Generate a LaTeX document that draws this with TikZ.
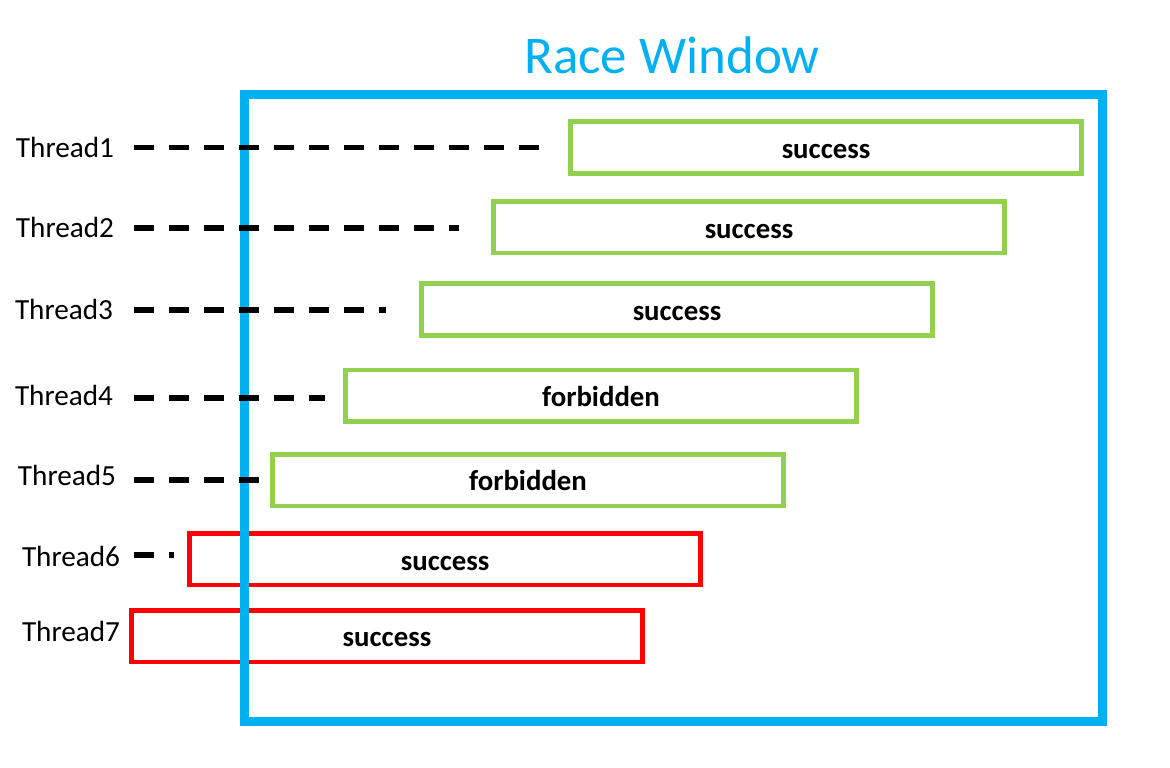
\documentclass[tikz,border=0pt]{standalone}
\usepackage{fontspec}
\setmainfont{Carlito}
\usepackage{tikz}
\usetikzlibrary{positioning}
\definecolor{WindowBlue}{RGB}{0, 176, 240}
\definecolor{OkGreen}{RGB}{146, 208, 80}
\definecolor{LateRed}{RGB}{255, 0, 0}

\begin{document}
\begin{tikzpicture}[x=0.5pt,y=-0.5pt,
    every node/.style={inner sep=0pt,outer sep=0pt},
    runbox/.style={draw,line width=2.35pt,minimum width=255.5pt,minimum height=25.8pt,text height=10.8pt,text depth=0pt,font=\fontsize{14.4}{17}\selectfont\bfseries},
    tlabel/.style={anchor=base west,font=\fontsize{14.6}{17}\selectfont},
    waitline/.style={line width=2.6pt,dash pattern=on 10pt off 7.5pt}]
    \useasboundingbox (0,0) rectangle (1170,767);
    \node[runbox,draw=LateRed] (b6) at (445.2,559.2) {success};
    \node[runbox,draw=LateRed] (b7) at (387,636.1) {success};
    \node[draw=WindowBlue,line width=4.5pt,minimum width=429pt,minimum height=313.5pt] (window) at (673.5,408) {};
    \node[anchor=base,text=WindowBlue,font=\fontsize{26.5}{30}\selectfont] (title) at (672,73) {Race Window};
    \node[runbox,draw=OkGreen] (b1) at (826,147.5) {success};
    \node[runbox,draw=OkGreen] (b2) at (749,227.3) {success};
    \node[runbox,draw=OkGreen] (b3) at (677,309.5) {success};
    \node[runbox,draw=OkGreen] (b4) at (601,395.7) {forbidden};
    \node[runbox,draw=OkGreen] (b5) at (528,480.1) {forbidden};
    \node[tlabel] (t1) at (16,157) {Thread1};
    \node[tlabel] (t2) at (16,237) {Thread2};
    \node[tlabel] (t3) at (15,319) {Thread3};
    \node[tlabel] (t4) at (15,405) {Thread4};
    \node[tlabel] (t5) at (18,485) {Thread5};
    \node[tlabel] (t6) at (22,566) {Thread6};
    \node[tlabel] (t7) at (22,641) {Thread7};
    \coordinate (w1s) at (134,147.5); \coordinate (w1e) at (539,147.5);
    \coordinate (w2s) at (134,228); \coordinate (w2e) at (459,228);
    \coordinate (w3s) at (134,310); \coordinate (w3e) at (386,310);
    \coordinate (w4s) at (134,398); \coordinate (w4e) at (325,398);
    \coordinate (w5s) at (134,480); \coordinate (w5e) at (259,480);
    \coordinate (w6s) at (134,555); \coordinate (w6e) at (174,555);
    \draw[waitline] (w1s) -- (w1e);
    \draw[waitline] (w2s) -- (w2e);
    \draw[waitline] (w3s) -- (w3e);
    \draw[waitline] (w4s) -- (w4e);
    \draw[waitline] (w5s) -- (w5e);
    \draw[waitline] (w6s) -- (w6e);
  \end{tikzpicture}
\end{document}
